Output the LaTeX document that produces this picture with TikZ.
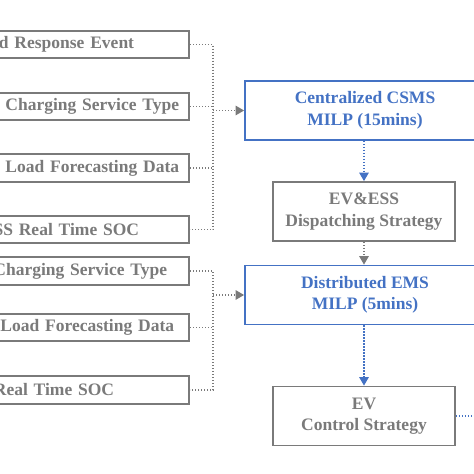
\documentclass[tikz,border=0pt]{standalone}
\usepackage{fontspec}
\setmainfont{Liberation Serif}
\usetikzlibrary{arrows.meta}
\definecolor{boxgray}{RGB}{122,122,122}
\definecolor{msblue}{RGB}{68,114,196}
\begin{document}
\begin{tikzpicture}
            [x=1pt,y=-1pt,thick,
             every node/.style={font=\fontsize{17.5}{21.5}\selectfont\bfseries,align=center},
             inbox/.style={draw=boxgray,text=boxgray,line width=1.8pt,text width=220pt,align=right,
                           minimum height=27.5pt,anchor=east},
             outbox/.style={draw=boxgray,text=boxgray,line width=1.8pt,minimum width=182pt,minimum height=59pt},
             milpbox/.style={draw=msblue,text=msblue,line width=1.8pt,minimum width=240pt,minimum height=59pt},
             link/.style={boxgray,line width=1.3pt,dash pattern=on 1.4pt off 1.6pt},
             bluelink/.style={msblue,line width=1.3pt,dash pattern=on 1.4pt off 1.6pt},
             tip/.style={-{Triangle[length=8.5pt,width=9.5pt]}}]
            \useasboundingbox (0,0) rectangle (474,474);
            \clip (0,0) rectangle (474,474);
            % inputs of the central level
            \node[inbox,inner xsep=55pt] (dre) at (190,44.5) {d Response Event};
            \node[inbox,inner xsep=10pt] (cst1) at (190,106.5) {Charging Service Type};
            \node[inbox,inner xsep=10pt] (lfd1) at (190,168) {Load Forecasting Data};
            \node[inbox,inner xsep=50pt] (soc1) at (190,229.5) {SS Real Time SOC};
            % inputs of the distributed level
            \node[inbox,inner xsep=22pt] (cst2) at (190,271) {Charging Service Type};
            \node[inbox,inner xsep=15pt] (lfd2) at (190,327.5) {Load Forecasting Data};
            \node[inbox,inner xsep=75pt] (soc2) at (190,390) {Real Time SOC};
            % optimisation levels
            \node[milpbox] (csms) at (365,110.5) {Centralized CSMS\\MILP (15mins)};
            \node[outbox] (evess) at (364,211.5) {EV\&ESS\\Dispatching Strategy};
            \node[milpbox] (dems) at (365,295) {Distributed EMS\\MILP (5mins)};
            \node[outbox] (evc) at (364,416) {EV\\Control Strategy};
            \coordinate (bus) at (213,0);
            % the buses
            \draw[link] (dre.east) -- (dre.east -| bus) |- (soc1.east);
            \draw[link] (cst1.east) -- (cst1.east -| bus);
            \draw[link] (lfd1.east) -- (lfd1.east -| bus);
            \draw[link,tip] (csms.west -| bus) -- (csms.west);
            \draw[link] (cst2.east) -- (cst2.east -| bus) |- (soc2.east);
            \draw[link] (lfd2.east) -- (lfd2.east -| bus);
            \draw[link,tip] (dems.west -| bus) -- (dems.west);
            % the chain
            \draw[bluelink,tip] (csms.south -| evess.north) -- (evess.north);
            \draw[link,tip] (evess.south) -- (evess.south |- dems.north);
            \draw[bluelink,tip] (dems.south -| evc.north) -- (evc.north);
            \draw[bluelink] (evc.east) -- ++(30,0);
        \end{tikzpicture}
\end{document}
